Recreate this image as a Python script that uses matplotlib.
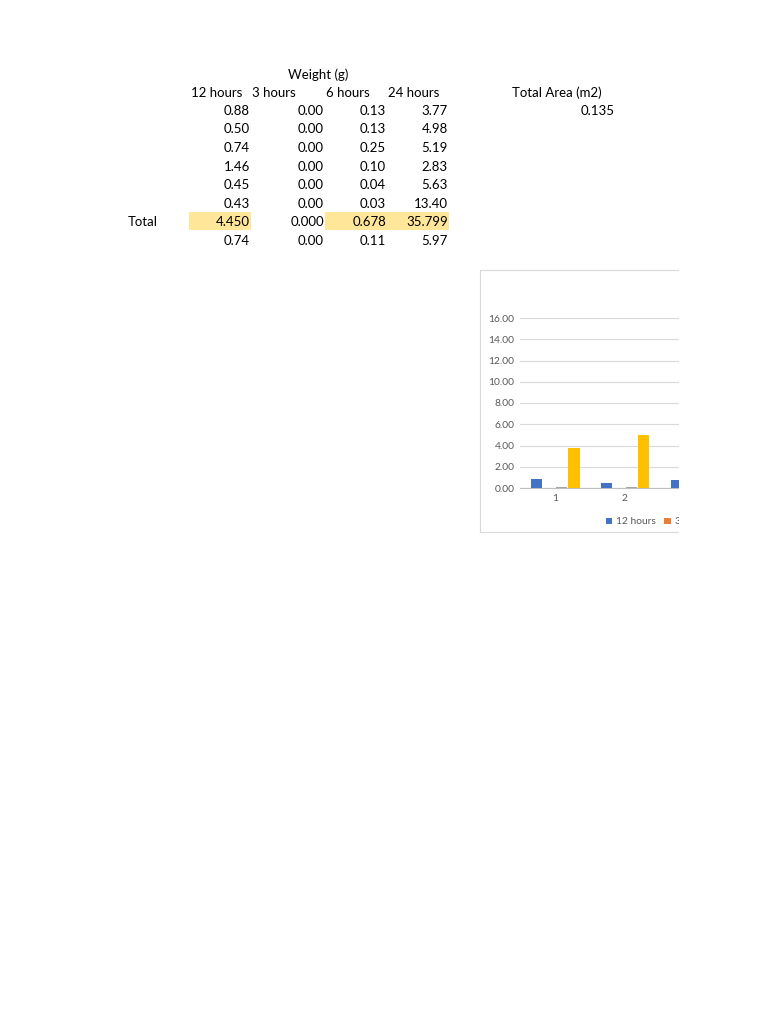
import matplotlib.pyplot as plt
from matplotlib.patches import Rectangle
from matplotlib.lines import Line2D

# donnees du tableau (poids en g)
series = ["12 hours", "3 hours", "6 hours", "24 hours"]
h12 = [0.88, 0.50, 0.74, 1.46, 0.45, 0.43]
h3 = [0.00, 0.00, 0.00, 0.00, 0.00, 0.00]
h6 = [0.13, 0.13, 0.25, 0.10, 0.04, 0.03]
h24 = [3.77, 4.98, 5.19, 2.83, 5.63, 13.40]
totals = ["4.450", "0.000", "0.678", "35.799"]
averages = ["0.74", "0.00", "0.11", "5.97"]
total_area = "0.135"
categories = [1, 2, 3, 4, 5, 6]

colors = ["#4472C4", "#ED7D31", "#A5A5A5", "#FFC000"]
W, H = 768, 1024
font = ["Lato", "DejaVu Sans"]


def fx(x):
    return x / W


def fy(y):
    return 1 - y / H


fig = plt.figure(figsize=(7.68, 10.24), dpi=100)


def cell(x, y, s, ha="right"):
    fig.text(fx(x), fy(y + 1), s, ha=ha, va="center", fontsize=9.5, family=font, color="black")


# cellules surlignees de la ligne Total
for x0, x1 in [(189, 251), (325, 449)]:
    fig.add_artist(Rectangle((fx(x0), fy(230)), fx(x1) - fx(x0), fy(212) - fy(230),
                             transform=fig.transFigure, color="#FFE699", lw=0, zorder=0))

# en-tetes
cell(318, 74, "Weight (g)", ha="center")
for x, s in zip([191, 252, 326, 388], series):
    cell(x, 92, s, ha="left")
cell(512, 92, "Total Area (m2)", ha="left")
cell(615, 110, total_area)

right_edges = [250, 324, 386, 448]
row_y = [110, 128, 147, 166, 184, 203]
for i, y in enumerate(row_y):
    for x, col in zip(right_edges, [h12, h3, h6, h24]):
        cell(x, y, f"{col[i]:.2f}")
cell(128, 221, "Total", ha="left")
for x, s in zip(right_edges, totals):
    cell(x, 221, s)
for x, s in zip(right_edges, averages):
    cell(x, 240, s)

# graphique : seule la partie gauche est visible (coupe a x=679)
ax = fig.add_axes([fx(520), fy(488), fx(679) - fx(520), fy(318) - fy(488)])
width = 0.16
offsets = [-0.27, -0.09, 0.09, 0.27]
bars = []
for name, vals, off, c in zip(series, [h12, h3, h6, h24], offsets, colors):
    bars.append(ax.bar([k + off for k in categories], vals, width=width, color=c,
                       label=name, zorder=3))

ax.set_yticks(range(0, 17, 2))
ax.set_yticklabels([f"{v:.2f}" for v in range(0, 17, 2)])
ax.set_xticks(categories)
ax.set_xlim(0.5, 0.5 + 159 / 70)
ax.set_ylim(0, 16)
ax.grid(axis="y", color="#D9D9D9", lw=0.8, zorder=0)
for side in ["top", "right", "left"]:
    ax.spines[side].set_visible(False)
ax.spines["bottom"].set_color("#BFBFBF")
ax.tick_params(length=0, labelsize=7.4, labelcolor="#595959", pad=4)
for lab in ax.get_xticklabels() + ax.get_yticklabels():
    lab.set_family(font)

# legende : seules les deux premieres entrees tombent dans la partie visible
leg = fig.legend(bars[:2], series[:2], loc="center left", bbox_to_anchor=(fx(606), fy(522)),
                 ncol=2, frameon=False, fontsize=7.4, handlelength=0.6, handleheight=0.6,
                 handletextpad=0.4, columnspacing=0.8, borderaxespad=0, borderpad=0)
for t in leg.get_texts():
    t.set_color("#595959")
    t.set_family(font)

# cadre du graphique (coupe a droite)
border = "#D9D9D9"
fig.add_artist(Line2D([fx(480), fx(679)], [fy(270), fy(270)], color=border, lw=0.8))
fig.add_artist(Line2D([fx(480), fx(679)], [fy(532), fy(532)], color=border, lw=0.8))
fig.add_artist(Line2D([fx(480), fx(480)], [fy(270), fy(532)], color=border, lw=0.8))

# tout ce qui depasse x=679 est masque
fig.add_artist(Rectangle((fx(679), 0), 1, 1, transform=fig.transFigure,
                         color="white", lw=0, zorder=20))

fig.savefig("out.png", dpi=100, facecolor="white")
